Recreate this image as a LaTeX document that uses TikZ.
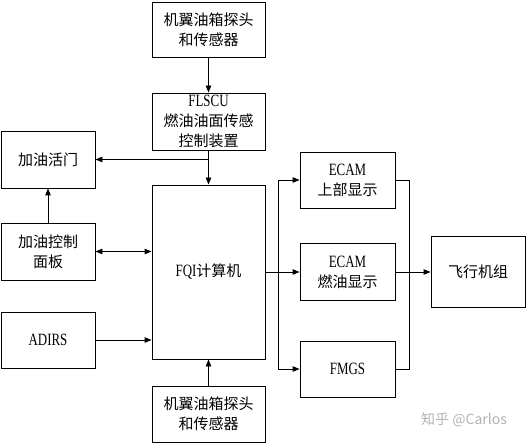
\documentclass[tikz,border=0pt]{standalone}
\usepackage{fontspec}
\setmainfont[FakeStretch=0.75,Scale=1.15]{Liberation Serif}
\newfontfamily\cjk{Noto Sans CJK SC}
\newcommand{\zh}[1]{{\cjk #1}}
\usetikzlibrary{arrows.meta}
\begin{document}
\begin{tikzpicture}[x=1pt,y=-1pt,
  box/.style={draw,line width=0.9pt,align=center,inner sep=0pt,font=\fontsize{15}{20}\selectfont},
  ln/.style={line width=0.9pt},
  arr/.style={ln,-{Triangle[length=7pt,width=5.5pt]}},
  darr/.style={ln,{Triangle[length=7pt,width=5.5pt]}-{Triangle[length=7pt,width=5.5pt]}}]
\useasboundingbox (0,0) rectangle (526,443);
\node[box,minimum width=113pt,minimum height=55pt] (top) at (208.5,29.5) {\zh{机翼油箱探头}\\\zh{和传感器}};
\node[box,minimum width=113pt,minimum height=57pt] (flscu) at (208.5,121.5) {FLSCU\\\zh{燃油油面传感}\\\zh{控制装置}};
\node[box,minimum width=94pt,minimum height=57pt] (valve) at (48,159.5) {\zh{加油活门}};
\node[box,minimum width=94pt,minimum height=57pt] (panel) at (48,251.5) {\zh{加油控制}\\\zh{面板}};
\node[box,minimum width=94pt,minimum height=56pt] (adirs) at (48,340) {ADIRS};
\node[box,minimum width=113pt,minimum height=174pt] (fqi) at (208.5,272) {FQI\zh{计算机}};
\node[box,minimum width=113pt,minimum height=56pt] (bot) at (208.5,414) {\zh{机翼油箱探头}\\\zh{和传感器}};
\node[box,minimum width=95pt,minimum height=56pt] (ecam1) at (347.5,180) {ECAM\\\zh{上部显示}};
\node[box,minimum width=95pt,minimum height=57pt] (ecam2) at (347.5,272) {ECAM\\\zh{燃油显示}};
\node[box,minimum width=95pt,minimum height=56pt] (fmgs) at (347.5,369) {FMGS};
\node[box,minimum width=94pt,minimum height=71pt] (crew) at (478,272) {\zh{飞行机组}};
\node[font=\cjk\fontsize{14}{14}\selectfont,text=black!30] (wm) at (464,420) {知乎 @Carlos};
\coordinate (sp) at (278,272);
\coordinate (jn) at (409,272);
\draw[arr] (top) -- (flscu);
\draw[arr] (flscu) -- (fqi);
\draw[arr] (flscu.south |- valve.east) -- (valve.east);
\draw[arr] (panel) -- (valve);
\draw[darr] (panel.east) -- (fqi.west |- panel.east);
\draw[arr] (adirs.east) -- (fqi.west |- adirs.east);
\draw[arr] (bot) -- (fqi);
\draw[arr] (fqi.east) -- (ecam2.west);
\draw[ln] (sp |- ecam1.west) -- (sp |- fmgs.west);
\draw[arr] (sp |- ecam1.west) -- (ecam1.west);
\draw[arr] (sp |- fmgs.west) -- (fmgs.west);
\draw[ln] (ecam1.east) -- (jn |- ecam1.east) -- (jn |- fmgs.east) -- (fmgs.east);
\draw[arr] (ecam2.east) -- (crew.west);
\end{tikzpicture}
\end{document}
